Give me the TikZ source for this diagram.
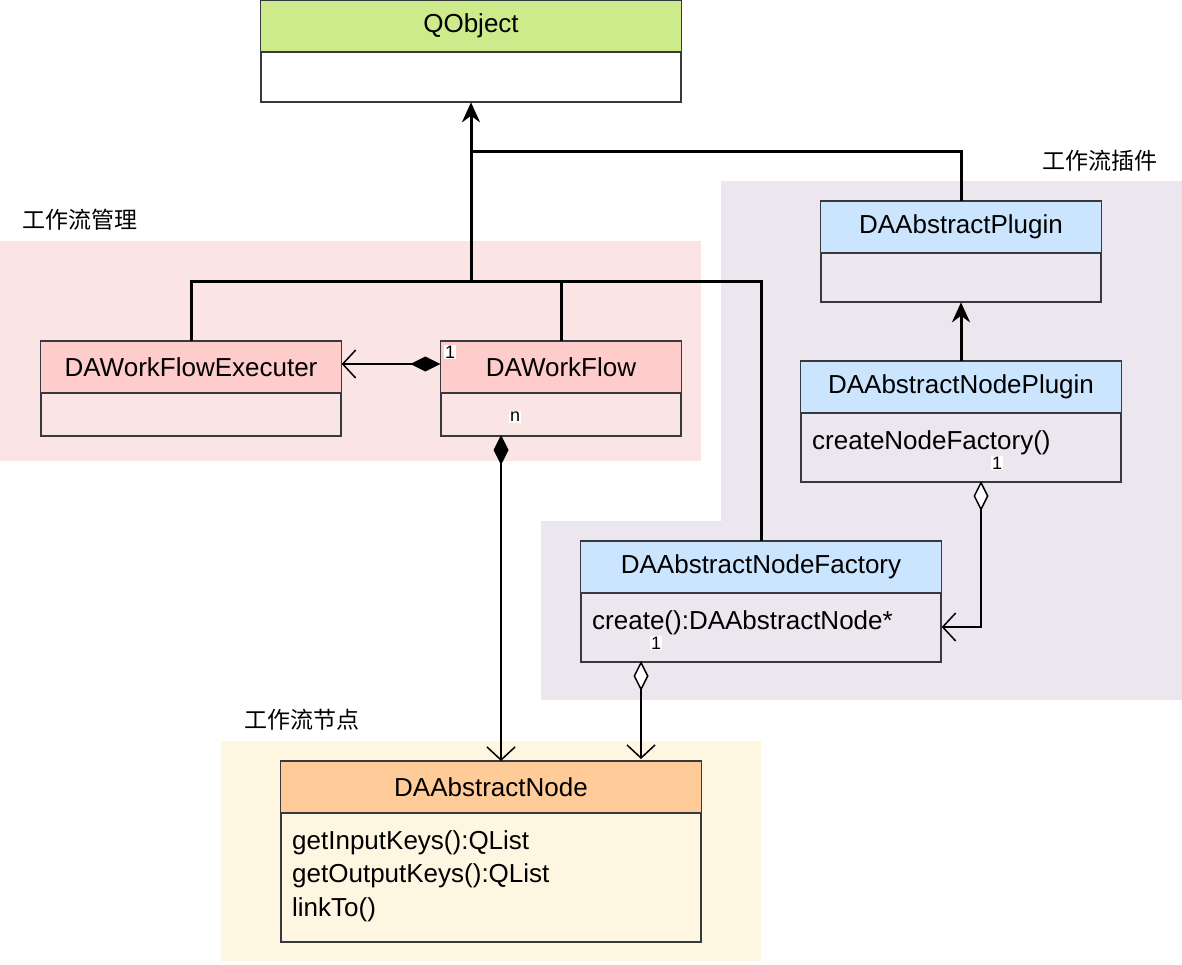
\documentclass[tikz,border=0pt]{standalone}
\usepackage{fontspec}
\setmainfont{Liberation Sans}
\newfontfamily\cjk{Noto Sans CJK SC}
\usetikzlibrary{arrows.meta,calc}
\definecolor{qgreen}{HTML}{CDEB8B}
\definecolor{hred}{HTML}{FFCCCC}
\definecolor{hblue}{HTML}{CCE5FF}
\definecolor{horange}{HTML}{FFCC99}
\definecolor{rpink}{HTML}{FAE4E4}
\definecolor{rpurple}{HTML}{ECE7EE}
\definecolor{ryellow}{HTML}{FFF6E2}
\definecolor{bord}{HTML}{36393D}
\tikzset{
 box/.style={draw=bord,line width=1.3pt,inner sep=0pt},
 ttl/.style={font=\fontsize{26}{30}\selectfont},
 mem/.style={font=\fontsize{26}{30}\selectfont,anchor=west,inner sep=0pt},
 grp/.style={font=\cjk\fontsize{23}{26}\selectfont},
 num/.style={font=\fontsize{18}{20}\selectfont,fill=white,inner sep=1pt},
 inh/.style={line width=3pt,-{Stealth[length=20pt,width=18pt]}},
 thk/.style={line width=3pt},
 comp/.style={line width=1.5pt,{Diamond[length=30pt,width=15pt]}-{Straight Barb[length=13pt,width=28pt]}},
 aggr/.style={line width=1.5pt,{Diamond[open,length=30pt,width=15pt,fill=white]}-{Straight Barb[length=13pt,width=28pt]}},
}
\newcommand{\umlcls}[9]{% name, cx, top, w, h, hh, color, title, bodyfill
 \node[box,minimum width=#4pt,minimum height=#5pt,fill=#9,anchor=north] (#1) at (#2,#3) {};
 \fill[#7] (#1.north west) rectangle ($(#1.north east)+(0,#6)$);
 \draw[box] (#1.north west) rectangle (#1.south east);
 \draw[box] ($(#1.north west)+(0,#6)$) -- ($(#1.north east)+(0,#6)$);
 \node[ttl] (#1t) at ($(#1.north)+(0,#6/2)$) {#8};
}
\begin{document}
\begin{tikzpicture}[x=1pt,y=-1pt]
\useasboundingbox (0,0) rectangle (1182,964);
% groups
\fill[rpink] (0,241) rectangle (701,461);
\fill[rpurple] (721,181) -- (1182,181) -- (1182,700) -- (541,700) -- (541,521) -- (721,521) -- cycle;
\fill[ryellow] (221,741) rectangle (761,961);
\node[grp] (g1) at (80,220) {工作流管理};
\node[grp] (g2) at (1100,161) {工作流插件};
\node[grp] (g3) at (302,720) {工作流节点};
% classes
\umlcls{q}{471}{0}{420}{101}{52}{qgreen}{QObject}{white}
\umlcls{ex}{191}{341}{300}{94}{52}{hred}{DAWorkFlowExecuter}{none}
\umlcls{wf}{561}{341}{240}{94}{52}{hred}{DAWorkFlow}{none}
\umlcls{pl}{961}{201}{280}{100}{52}{hblue}{DAAbstractPlugin}{none}
\umlcls{np}{961}{361}{320}{120}{52}{hblue}{DAAbstractNodePlugin}{none}
\umlcls{nf}{761}{541}{360}{120}{52}{hblue}{DAAbstractNodeFactory}{none}
\umlcls{an}{491}{761}{420}{180}{52}{horange}{DAAbstractNode}{none}
\node[mem] (npm) at (812,443) {createNodeFactory()};
\node[mem] (nfm) at (592,623) {create():DAAbstractNode*};
\node[mem] (an1) at (292,843) {getInputKeys():QList};
\node[mem] (an2) at (292,876) {getOutputKeys():QList};
\node[mem] (an3) at (292,910) {linkTo()};
% inheritance
\coordinate (j1) at (471,281);
\coordinate (j2) at (471,151);
\draw[inh] (j1) -- (q.south);
\draw[thk] (ex.north) |- (j1) -| (nf.north);
\draw[thk] (wf.north) -- (wf.north |- j1);
\draw[thk] (j2) -| (pl.north);
\draw[inh] (np.north) -- (pl.south);
% composition
\draw[comp] (wf.west |- ex.north) ++(0,23) coordinate (c1) -- (ex.east |- c1);
\node[num] (l1) at (450,352) {1};
\coordinate (c2) at (501,435);
\draw[comp] (c2) -- (c2 |- an.north);
\node[num] (l2) at (515,417) {n};
% aggregation
\coordinate (a1) at (981,481);
\coordinate (a2) at (981,627);
\draw[aggr] (a1) -- (a2) -- (nf.east |- a2);
\node[num] (l3) at (997,463) {1};
\coordinate (a3) at (641,661);
\draw[aggr] (a3) -- (641,759);
\node[num] (l4) at (656,643) {1};
\end{tikzpicture}
\end{document}
